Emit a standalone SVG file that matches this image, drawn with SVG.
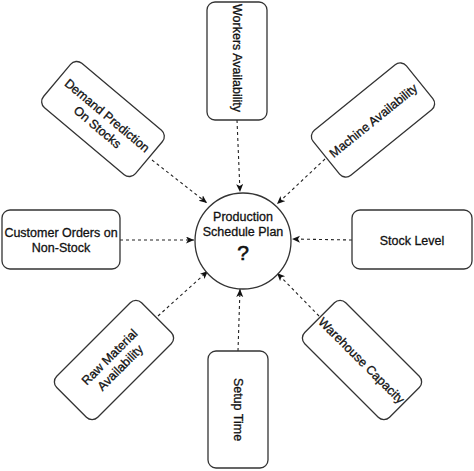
<svg xmlns="http://www.w3.org/2000/svg" width="474" height="471" viewBox="0 0 474 471">
<style>
.box{fill:#fff;stroke:#333;stroke-width:1.3}
.lbl{font-family:"Liberation Sans",Arial,sans-serif;font-size:12.5px;fill:#111;stroke:#111;stroke-width:0.3;text-anchor:middle}
.conn{stroke:#222;stroke-width:1.1;stroke-dasharray:3 3;fill:none;marker-end:url(#ah)}
</style>
<defs>
<marker id="ah" markerWidth="9" markerHeight="8" refX="8" refY="3.5" orient="auto" markerUnits="userSpaceOnUse">
<path d="M0,0 L8,3.5 L0,7 L2,3.5 z" fill="#111"/>
</marker>
</defs>
<rect width="474" height="471" fill="#fff"/>
<g id="connectors">
<line class="conn" x1="152" y1="160" x2="207" y2="203"/>
<line class="conn" x1="237" y1="120" x2="240" y2="192"/>
<line class="conn" x1="325" y1="159" x2="277" y2="204"/>
<line class="conn" x1="120" y1="240" x2="194" y2="240"/>
<line class="conn" x1="352" y1="240" x2="292" y2="239"/>
<line class="conn" x1="158" y1="316" x2="208" y2="271"/>
<line class="conn" x1="238" y1="351" x2="240" y2="289"/>
<line class="conn" x1="319" y1="316" x2="277" y2="273"/>
</g>
<g id="plan">
<circle class="box" cx="243" cy="241" r="48"/>
<text class="lbl" x="243" y="220.5">Production</text>
<text class="lbl" x="243" y="235.5">Schedule Plan</text>
<text class="lbl" x="243" y="260" style="font-size:21px;stroke-width:0.6">?</text>
</g>
<g id="workers" transform="translate(237,61) rotate(90)">
<rect class="box" x="-59" y="-30" width="118" height="60" rx="8"/>
<text class="lbl" x="-3" y="4">Workers Availability</text>
</g>
<g id="demand" transform="translate(103,119) rotate(40)">
<rect class="box" x="-60" y="-29" width="120" height="58" rx="8"/>
<text class="lbl" x="1" y="-1">Demand Prediction</text>
<text class="lbl" x="1" y="14">On Stocks</text>
</g>
<g id="machine" transform="translate(373,120) rotate(-39)">
<rect class="box" x="-60" y="-29" width="120" height="58" rx="8"/>
<text class="lbl" x="0" y="5">Machine Availability</text>
</g>
<g id="customer">
<rect class="box" x="2" y="210" width="118" height="59" rx="8"/>
<text class="lbl" x="61" y="237">Customer Orders on</text>
<text class="lbl" x="61" y="252">Non-Stock</text>
</g>
<g id="stock">
<rect class="box" x="352" y="210" width="120" height="59" rx="8"/>
<text class="lbl" x="412" y="245">Stock Level</text>
</g>
<g id="raw" transform="translate(114,360) rotate(-45)">
<rect class="box" x="-60" y="-29" width="120" height="58" rx="8"/>
<text class="lbl" x="-1" y="-1">Raw Material</text>
<text class="lbl" x="-1" y="14">Availability</text>
</g>
<g id="setup" transform="translate(238,409.5) rotate(90)">
<rect class="box" x="-58.5" y="-30" width="117" height="60" rx="8"/>
<text class="lbl" x="0" y="4">Setup Time</text>
</g>
<g id="warehouse" transform="translate(362,360) rotate(45)">
<rect class="box" x="-60" y="-29" width="120" height="58" rx="8"/>
<text class="lbl" x="0" y="5">Warehouse Capacity</text>
</g>
</svg>
